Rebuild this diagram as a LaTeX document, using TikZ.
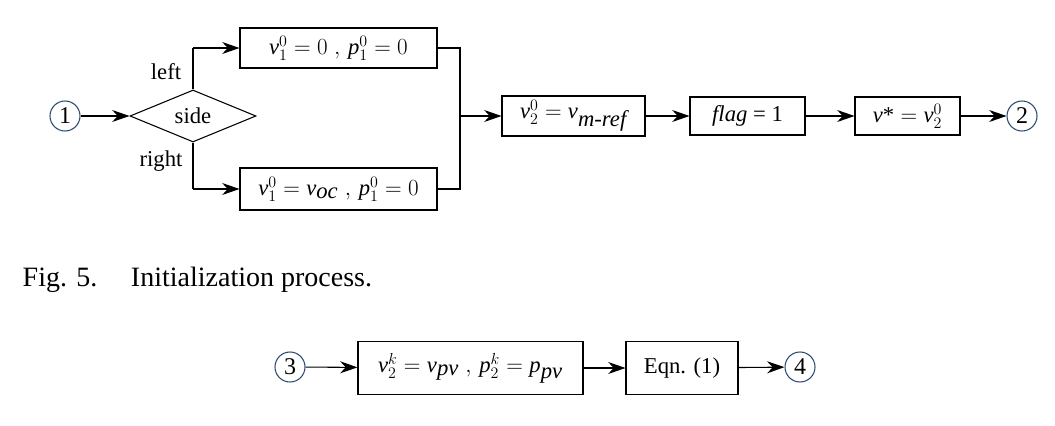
\documentclass[tikz,border=0pt]{standalone}
\usepackage{fontspec}
\setmainfont{Liberation Serif}
\usetikzlibrary{shapes.geometric,arrows.meta}
\definecolor{cb}{RGB}{45,75,115}
\newcommand{\tv}[1]{\textit{#1}}
\begin{document}
\begin{tikzpicture}[x=0.75pt,y=-0.75pt,
  box/.style={draw,thick,inner sep=0,font=\fontsize{17}{20}\selectfont},
  cir/.style={draw=cb,thick,circle,minimum size=22.5pt,inner sep=0,font=\fontsize{18}{20}\selectfont},
  ar/.style={thick,-{Stealth[length=13pt,width=9pt]}},
  ln/.style={thick},
  lab/.style={font=\fontsize{17}{20}\selectfont}]
\useasboundingbox (0,0) rectangle (1055,425);
\node[cir] (c1) at (65,116) {1};
\node[draw,thick,diamond,aspect=2.4,minimum width=94.5pt,minimum height=39pt,inner sep=0,lab] (d) at (193,116) {side};
\node[box,minimum width=147.75pt,minimum height=30pt] (b1) at (338.5,48) {$\tv{v}_1^0 = 0\;,\, \tv{p}_1^0 = 0$};
\node[box,minimum width=147.75pt,minimum height=31.5pt] (b2) at (338.5,189) {$\tv{v}_1^0 = \tv{v}_{\tv{oc}}\;,\, \tv{p}_1^0 = 0$};
\node[box,minimum width=107.25pt,minimum height=30pt] (b3) at (573.5,116) {$\tv{v}_2^0 = \tv{v}_{\tv{m-ref}}$};
\node[box,minimum width=86.25pt,minimum height=28.5pt] (b4) at (747.5,116) {\tv{flag} = 1};
\node[box,minimum width=78.75pt,minimum height=28.5pt] (b5) at (907.5,116) {$\tv{v}\textrm{*} = \tv{v}_2^0$};
\node[cir] (c2) at (1022,116) {2};
\node[lab] (l1) at (166,72) {left};
\node[lab] (l2) at (161,161) {right};
\coordinate (j1) at (193,48);
\coordinate (j2) at (193,189);
\coordinate (m) at (460,116);
\draw[ar] (c1) -- (d);
\draw[ln] (d.north) -- (j1); \draw[ar] (j1) -- (b1);
\draw[ln] (d.south) -- (j2); \draw[ar] (j2) -- (b2);
\draw[ln] (b1.east) -| (m); \draw[ln] (b2.east) -| (m);
\draw[ar] (m) -- (b3);
\draw[ar] (b3) -- (b4);
\draw[ar] (b4) -- (b5);
\draw[ar] (b5) -- (c2);
\node[anchor=west,font=\fontsize{21}{24}\selectfont] (cap) at (18,280) {Fig. 5.\hspace{1.2em}Initialization process.};
\node[cir] (c3) at (290,367) {3};
\node[box,minimum width=168.75pt,minimum height=39.75pt] (b6) at (470.5,368) {$\tv{v}_2^k = \tv{v}_{\tv{pv}}\;,\, \tv{p}_2^k = \tv{p}_{\tv{pv}}$};
\node[box,minimum width=84pt,minimum height=39.75pt] (b7) at (682,368) {Eqn. (1)};
\node[cir] (c4) at (800,367) {4};
\draw[ar] (c3) -- (b6);
\draw[ar] (b6) -- (b7);
\draw[ar] (b7) -- (c4);
\end{tikzpicture}
\end{document}
